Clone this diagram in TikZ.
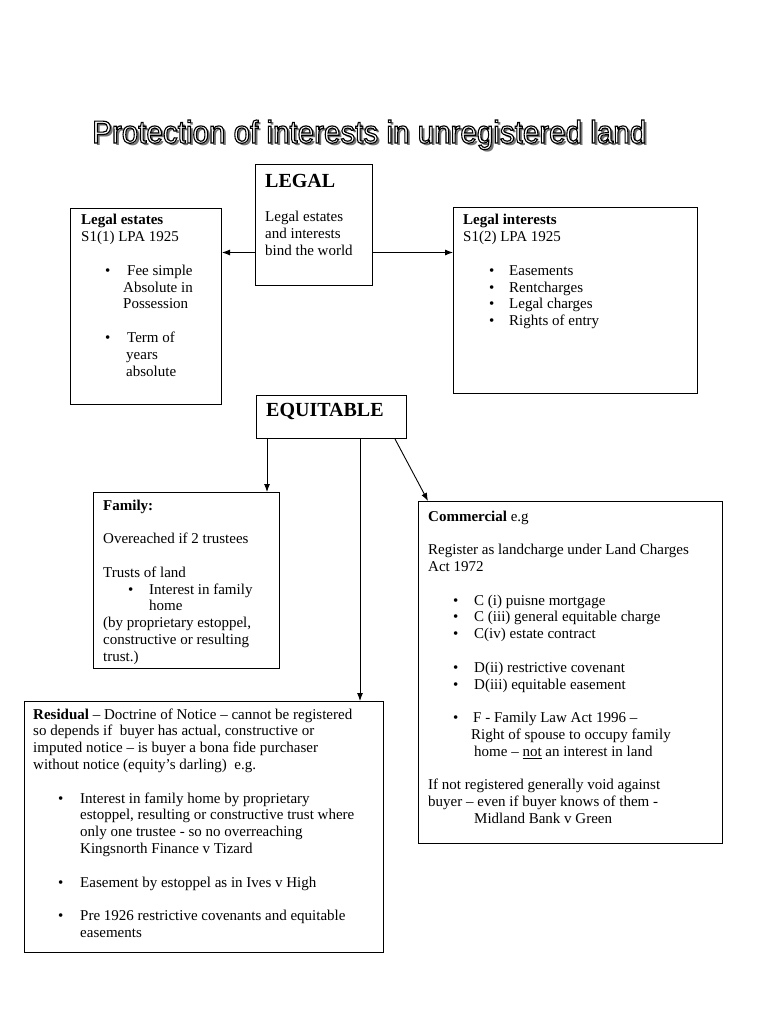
\documentclass[tikz,border=0pt]{standalone}
\usepackage{fontspec}
\setmainfont{Liberation Serif}
\newfontfamily\titlefont{Liberation Sans}
\usetikzlibrary{arrows.meta}
\newcommand{\bul}[2]{\hspace*{#1}\makebox[#2][l]{\textbullet}}
\newcommand{\titletext}{\titlefont\fontsize{30}{36}\selectfont Protection of interests in unregistered land}
\begin{document}
\begin{tikzpicture}[x=1pt,y=-1pt,
  box/.style={draw=black, line width=1pt, anchor=north west, inner sep=0pt},
  txt/.style={inner sep=0pt, anchor=base west, font=\fontsize{15}{16.8}\selectfont},
  head/.style={inner sep=0pt, anchor=base west, font=\fontsize{20}{24}\selectfont\bfseries},
  arr/.style={line width=0.9pt, -{Latex[length=8pt,width=6pt]}}]
\useasboundingbox[fill=white] (0,0) rectangle (768,1024);

% title (shadow + outlined letters in one node)
\node[inner sep=0pt, anchor=base west] (title) at (92,143)
  {\rlap{\hspace*{2.5pt}\raisebox{-2.5pt}{\color{black!55}\resizebox{554pt}{23pt}{\titletext}}}%
   \resizebox{554pt}{23pt}{\color{white}\special{pdf:literal direct 2 Tr 1.1 w 0 G}\titletext\special{pdf:literal direct 0 Tr}}};

% boxes
\node[box, minimum width=117pt, minimum height=121pt] (legal) at (255,164) {};
\node[box, minimum width=151pt, minimum height=196pt] (estates) at (70,208) {};
\node[box, minimum width=244pt, minimum height=186pt] (interests) at (453,207) {};
\node[box, minimum width=150pt, minimum height=43pt] (equit) at (256,395) {};
\node[box, minimum width=186pt, minimum height=176pt] (family) at (93,492) {};
\node[box, minimum width=304pt, minimum height=342pt] (comm) at (418,501) {};
\node[box, minimum width=359pt, minimum height=251pt] (resid) at (24,701) {};

% connectors
\coordinate (la) at ([yshift=-27.5pt]legal.west);
\draw[arr] (la) -- (la -| estates.east);
\coordinate (lb) at ([yshift=-27.5pt]legal.east);
\draw[arr] (lb) -- (lb -| interests.west);
\coordinate (ea) at ([xshift=11pt]equit.south west);
\draw[arr] (ea) -- (ea |- family.north);
\coordinate (eb) at ([xshift=104pt]equit.south west);
\draw[arr] (eb) -- (eb |- resid.north);
\coordinate (ec) at ([xshift=139pt]equit.south west);
\coordinate (ct) at ([xshift=10pt]comm.north west);
\draw[arr] (ec) -- (ct);

% texts
\node[head] (legalhead) at (265,188) {LEGAL};
\node[txt] (legalbody) at (265,222) {\parbox[t]{105pt}{\raggedright Legal estates\\and interests\\bind the world}};

\node[txt] (estatestxt) at (81,225) {\parbox[t]{138pt}{\raggedright\textbf{Legal estates}\\
S1(1) LPA 1925\\[16.8pt]
\bul{24pt}{22pt}Fee simple\\
\hspace*{42pt}Absolute in\\
\hspace*{42pt}Possession\\[16.8pt]
\bul{24pt}{22pt}Term of\\
\hspace*{45pt}years\\
\hspace*{45pt}absolute}};

\node[txt] (intereststxt) at (463,225) {\parbox[t]{232pt}{\raggedright\textbf{Legal interests}\\
S1(2) LPA 1925\\[16.8pt]
\bul{26pt}{20pt}Easements\\
\bul{26pt}{20pt}Rentcharges\\
\bul{26pt}{20pt}Legal charges\\
\bul{26pt}{20pt}Rights of entry}};

\node[head] (equithead) at (266,416) {EQUITABLE};

\node[txt] (familytxt) at (103,510) {\parbox[t]{174pt}{\raggedright\textbf{Family:}\\[16.8pt]
Overeached if 2 trustees\\[16.8pt]
Trusts of land\\
\bul{25pt}{21pt}Interest in family\\
\hspace*{46pt}home\\
(by proprietary estoppel,\\
constructive or resulting\\
trust.)}};

\node[txt] (commtxt) at (428,521) {\parbox[t]{292pt}{\raggedright\textbf{Commercial} e.g\\[16.8pt]
Register as landcharge under Land Charges\\
Act 1972\\[16.8pt]
\bul{25pt}{21pt}C (i) puisne mortgage\\
\bul{25pt}{21pt}C (iii) general equitable charge\\
\bul{25pt}{21pt}C(iv) estate contract\\[16.8pt]
\bul{25pt}{21pt}D(ii) restrictive covenant\\
\bul{25pt}{21pt}D(iii) equitable easement\\[16.8pt]
\bul{25pt}{20pt}F - Family Law Act 1996 –\\
\hspace*{43pt}Right of spouse to occupy family\\
\hspace*{46pt}home – \underline{not} an interest in land\\[16.8pt]
If not registered generally void against\\
buyer – even if buyer knows of them -\\
\hspace*{46pt}Midland Bank v Green}};

\node[txt] (residtxt) at (33,719) {\parbox[t]{348pt}{\raggedright\textbf{Residual} – Doctrine of Notice – cannot be registered\\
so depends if\ \ buyer has actual, constructive or\\
imputed notice – is buyer a bona fide purchaser\\
without notice (equity’s darling)\ \ e.g.\\[16.8pt]
\bul{25pt}{22pt}Interest in family home by proprietary\\
\hspace*{47pt}estoppel, resulting or constructive trust where\\
\hspace*{47pt}only one trustee - so no overreaching\\
\hspace*{47pt}Kingsnorth Finance v Tizard\\[16.8pt]
\bul{25pt}{22pt}Easement by estoppel as in Ives v High\\[16.8pt]
\bul{25pt}{22pt}Pre 1926 restrictive covenants and equitable\\
\hspace*{47pt}easements}};
\end{tikzpicture}
\end{document}
